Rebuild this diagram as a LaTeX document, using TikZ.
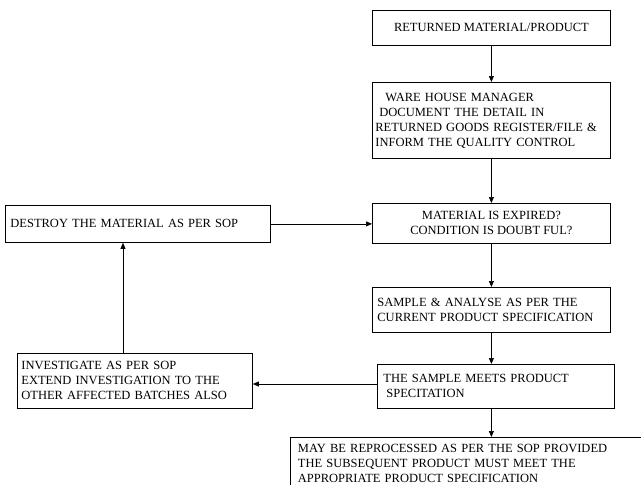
\documentclass[tikz,border=0pt]{standalone}
\usepackage{fontspec}
\setmainfont{Liberation Serif}
\usetikzlibrary{arrows.meta}
\begin{document}
\begin{tikzpicture}[x=1pt,y=-1pt,
  box/.style={draw,line width=0.8pt,anchor=north west,inner sep=0pt,font=\fontsize{12.5}{15}\selectfont},
  arr/.style={-{Triangle[length=6pt,width=5pt]},line width=0.7pt}]
\useasboundingbox (0,0) rectangle (641,485);
\node[box,minimum width=238,minimum height=35] (a) at (372,10) {RETURNED MATERIAL/PRODUCT};
\node[box,minimum width=238,minimum height=76,align=left,text width=232] (b) at (372,82) {\hspace*{10pt}WARE HOUSE MANAGER\\\hspace*{4pt}DOCUMENT THE DETAIL IN\\RETURNED GOODS REGISTER/FILE \&\\INFORM THE QUALITY CONTROL};
\node[box,minimum width=238,minimum height=40,align=center] (c) at (372,203) {MATERIAL IS EXPIRED?\\CONDITION IS DOUBT FUL?};
\node[box,minimum width=265,minimum height=37,align=left,text width=255] (d) at (5,205) {DESTROY THE MATERIAL AS PER SOP};
\node[box,minimum width=238,minimum height=45,align=left,text width=228] (e) at (372,287) {SAMPLE \& ANALYSE AS PER THE\\CURRENT PRODUCT SPECIFICATION};
\node[box,minimum width=237,minimum height=44,align=left,text width=225] (f) at (377,364) {THE SAMPLE MEETS PRODUCT\\\hspace*{3pt}SPECITATION};
\node[box,minimum width=235,minimum height=55,align=left,text width=227] (g) at (17,353) {INVESTIGATE AS PER SOP\\EXTEND INVESTIGATION TO THE\\OTHER AFFECTED BATCHES ALSO};
\node[box,minimum width=360,minimum height=52,align=left,text width=345,anchor=north west] (h) at (290,437) {MAY BE REPROCESSED AS PER THE SOP PROVIDED\\THE SUBSEQUENT PRODUCT MUST MEET THE\\APPROPRIATE PRODUCT SPECIFICATION};
\draw[arr] (a.south) -- (b.north);
\draw[arr] (b.south) -- (c.north);
\draw[arr] (c.south) -- (e.north);
\draw[arr] (e.south) -- (e.south |- f.north);
\draw[arr] (f.south -| e.south) -- (e.south |- h.north);
\draw[arr] (d.east) -- (c.west |- d.east);
\draw[arr] (f.west |- 0,384) -- (g.east |- 0,384);
\draw[arr] (g.north -| 123,0) -- (d.south -| 123,0);
\end{tikzpicture}
\end{document}
